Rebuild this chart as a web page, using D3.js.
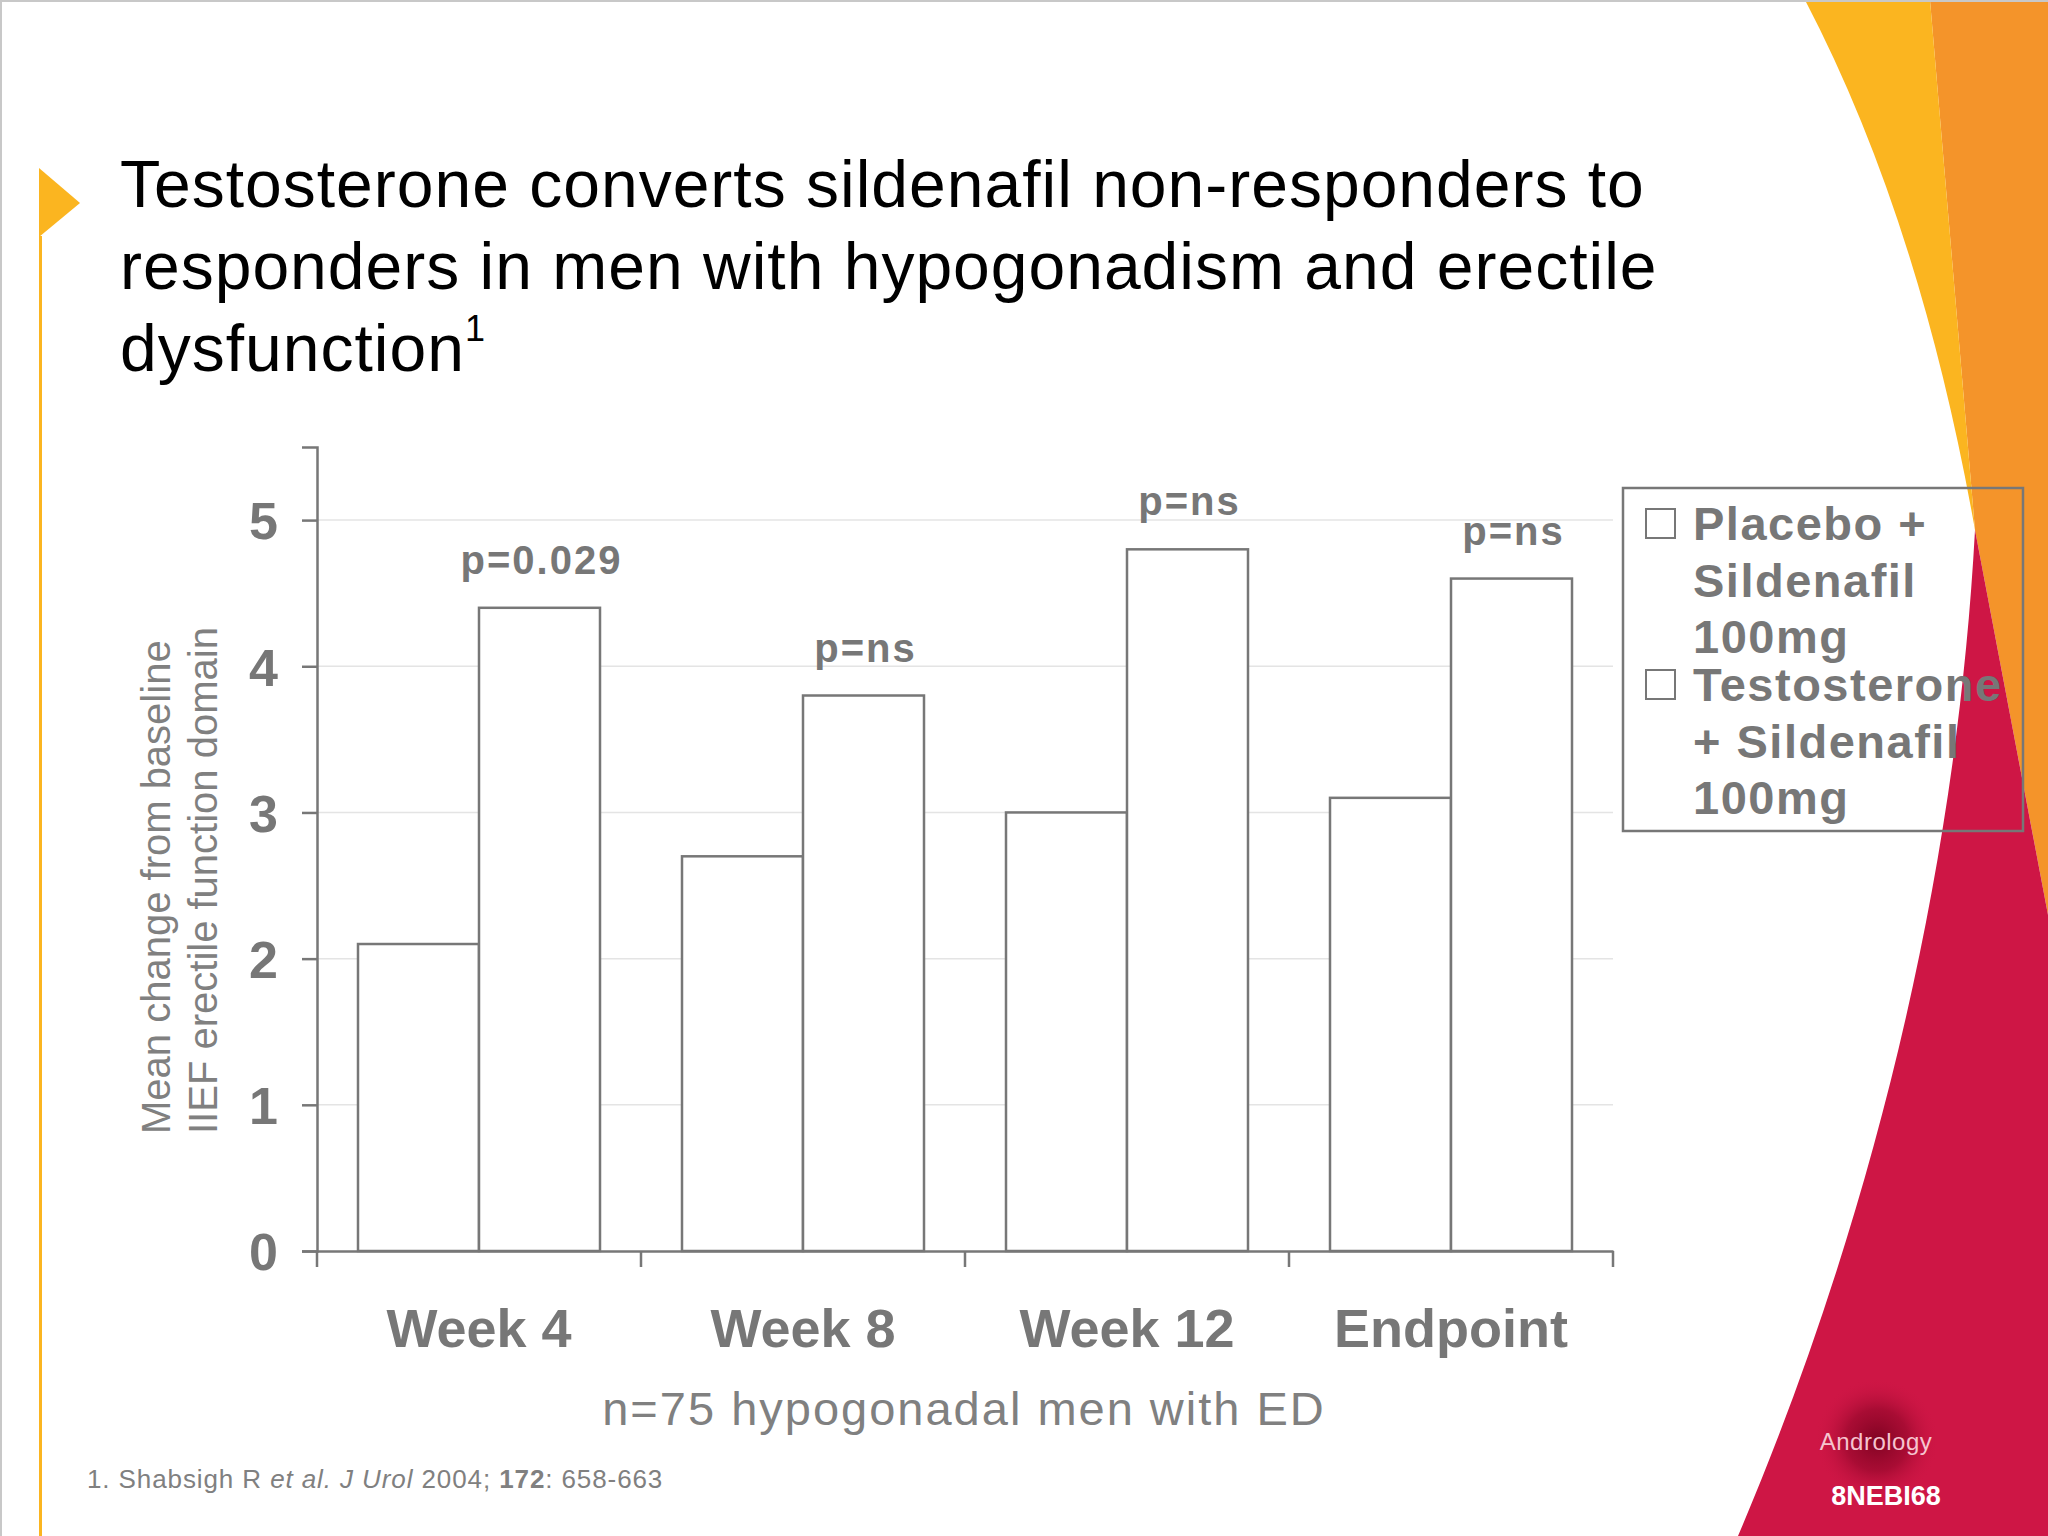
<!DOCTYPE html>
<html><head><meta charset="utf-8">
<script src="https://cdn.jsdelivr.net/npm/d3@7"></script>
<style>
html,body{margin:0;padding:0;background:#fff;}
svg{display:block;font-family:"Liberation Sans",Arial,sans-serif;}
</style></head>
<body>
<svg id="c" width="2048" height="1536"></svg>
<script>
const categories = ["Week 4", "Week 8", "Week 12", "Endpoint"];
const seriesKeys = ["placebo", "testosterone"];
const placeboValues = [2.1, 2.7, 3.0, 3.1];
const testosteroneValues = [4.4, 3.8, 4.8, 4.6];
const pLabels = ["p=0.029", "p=ns", "p=ns", "p=ns"];
const yTickValues = [0, 1, 2, 3, 4, 5];
const legendLines = [
  ["Placebo +", "Sildenafil", "100mg"],
  ["Testosterone", "+ Sildenafil", "100mg"]
];
const titleLines = ["Testosterone converts sildenafil non-responders to",
  "responders in men with hypogonadism and erectile", "dysfunction"];
const yTitleLines = ["Mean change from baseline", "IIEF erectile function domain"];

const svg = d3.select("#c");
const grey = "#777777";

// background decorations
const defs = svg.append("defs");
const rg = defs.append("radialGradient").attr("id", "glow");
rg.append("stop").attr("offset", "0%").attr("stop-color", "#800322").attr("stop-opacity", 1);
rg.append("stop").attr("offset", "50%").attr("stop-color", "#9c092e").attr("stop-opacity", 0.75);
rg.append("stop").attr("offset", "100%").attr("stop-color", "#ce1645").attr("stop-opacity", 0);

svg.append("path").attr("d", "M1930,0 L1975,530 L2048,915 L2048,0 Z").attr("fill", "#f4942a");
svg.append("path").attr("d", "M1805,0 Q1920,220 1975,530 L1930,0 Z").attr("fill", "#fbb520");
svg.append("path").attr("d", "M1975,530 L2048,915 L2048,1536 L1738,1536 C1860,1250 1955,900 1975,530 Z").attr("fill", "#ce1645");
svg.append("circle").attr("cx", 1877).attr("cy", 1440).attr("r", 62).attr("fill", "url(#glow)");
svg.append("text").attr("x", 1876).attr("y", 1450).attr("text-anchor", "middle")
  .attr("font-size", 24).attr("letter-spacing", 0.5).attr("fill", "#f6c4cf").text("Andrology");
svg.append("text").attr("x", 1886).attr("y", 1505).attr("text-anchor", "middle")
  .attr("font-size", 27).attr("font-weight", "bold").attr("fill", "#ffffff").text("8NEBI68");

// border lines
svg.append("line").attr("x1", 0).attr("x2", 2048).attr("y1", 1).attr("y2", 1).attr("stroke", "#c8c8c8").attr("stroke-width", 2);
svg.append("line").attr("x1", 1).attr("x2", 1).attr("y1", 0).attr("y2", 1536).attr("stroke", "#c8c8c8").attr("stroke-width", 2);

// yellow arrow marker
svg.append("path").attr("d", "M39,168 L80,203 L39,237 Z").attr("fill", "#fbb520");
svg.append("line").attr("x1", 40.5).attr("x2", 40.5).attr("y1", 236).attr("y2", 1536).attr("stroke", "#fbb520").attr("stroke-width", 3);

// title
const title = svg.append("text").attr("font-size", 66).attr("letter-spacing", 1.0).attr("fill", "#000");
titleLines.forEach((t, i) => {
  title.append("tspan").attr("x", 120).attr("y", 207 + i * 82).text(t);
  if (i === titleLines.length - 1) {
    title.append("tspan").attr("font-size", 36).attr("dy", -30).text("1");
  }
});

// scales
const y = d3.scaleLinear().domain([0, 5.5]).range([1251, 447]);
const x0 = d3.scaleBand().domain(categories).range([317, 1613]).padding(0);
const pad = 41;
const x1 = d3.scaleBand().domain(seriesKeys).range([pad, x0.bandwidth() - pad]).padding(0);

// gridlines
svg.append("g").selectAll("line").data(yTickValues.filter(v => v > 0)).join("line")
  .attr("x1", 317).attr("x2", 1613).attr("y1", d => y(d)).attr("y2", d => y(d))
  .attr("stroke", "#e4e4e4").attr("stroke-width", 1.5);

// bars
const rows = categories.map((c, i) => ({ cat: c, placebo: placeboValues[i], testosterone: testosteroneValues[i], p: pLabels[i] }));
const groups = svg.append("g").selectAll("g").data(rows).join("g")
  .attr("transform", d => `translate(${x0(d.cat)},0)`);
groups.selectAll("rect").data(d => seriesKeys.map(k => ({ key: k, value: d[k] }))).join("rect")
  .attr("x", d => x1(d.key)).attr("width", x1.bandwidth())
  .attr("y", d => y(d.value)).attr("height", d => y(0) - y(d.value))
  .attr("fill", "#ffffff").attr("stroke", grey).attr("stroke-width", 2.5);
groups.append("text")
  .attr("x", x1("testosterone") + x1.bandwidth() / 2 + 2)
  .attr("y", d => y(d.testosterone) - 34)
  .attr("text-anchor", "middle").attr("font-size", 40).attr("font-weight", "bold")
  .attr("letter-spacing", 2).attr("fill", grey).text(d => d.p);

// y axis
const yAxis = svg.append("g").attr("transform", "translate(317,0)")
  .call(d3.axisLeft(y).tickValues(yTickValues).tickSize(15).tickPadding(24).tickFormat(d3.format("d")));
yAxis.select(".domain").attr("stroke", grey).attr("stroke-width", 2.5);
yAxis.selectAll(".tick line").attr("stroke", grey).attr("stroke-width", 2.5);
yAxis.selectAll(".tick text").attr("fill", grey).attr("font-size", 52).attr("font-weight", "bold")
  .attr("font-family", "Liberation Sans, Arial, sans-serif").attr("dy", "0.36em");

// x axis
const xAxis = svg.append("g").attr("transform", "translate(0,1251)")
  .call(d3.axisBottom(x0).tickSize(0).tickPadding(58));
xAxis.select(".domain").attr("stroke", grey).attr("stroke-width", 2.5);
xAxis.selectAll(".tick text").attr("fill", grey).attr("font-size", 54).attr("font-weight", "bold")
  .attr("font-family", "Liberation Sans, Arial, sans-serif");
const boundaries = categories.map(c => x0(c)).concat([x0.range()[1]]);
svg.append("g").selectAll("line").data(boundaries).join("line")
  .attr("x1", d => d).attr("x2", d => d).attr("y1", 1251).attr("y2", 1267)
  .attr("stroke", grey).attr("stroke-width", 2.5);

// y title
const yt = svg.append("g");
yTitleLines.forEach((t, i) => {
  yt.append("text").attr("transform", `translate(${170 + i * 47},1134) rotate(-90)`)
    .attr("font-size", 40).attr("fill", "#808080").text(t);
});

// x subtitle
svg.append("text").attr("x", 964).attr("y", 1425).attr("text-anchor", "middle")
  .attr("font-size", 47).attr("letter-spacing", 2).attr("fill", "#808080").text("n=75 hypogonadal men with ED");

// footnote
const fn = svg.append("text").attr("x", 87).attr("y", 1488).attr("font-size", 26).attr("letter-spacing", 0.9).attr("fill", "#808080");
fn.append("tspan").text("1. Shabsigh R ");
fn.append("tspan").attr("font-style", "italic").text("et al. J Urol");
fn.append("tspan").text(" 2004; ");
fn.append("tspan").attr("font-weight", "bold").text("172");
fn.append("tspan").text(": 658-663");

// legend
const lg = svg.append("g");
lg.append("rect").attr("x", 1623).attr("y", 488).attr("width", 400).attr("height", 343)
  .attr("fill", "none").attr("stroke", grey).attr("stroke-width", 2.5);
const itemTop = [540, 701];
legendLines.forEach((lines, i) => {
  lg.append("rect").attr("x", 1646).attr("y", itemTop[i] - 31).attr("width", 29).attr("height", 29)
    .attr("fill", "#ffffff").attr("stroke", grey).attr("stroke-width", 2);
  lines.forEach((t, j) => {
    lg.append("text").attr("x", 1693).attr("y", itemTop[i] + j * 56.5)
      .attr("font-size", 47).attr("font-weight", "bold").attr("letter-spacing", 1.5)
      .attr("fill", grey).text(t);
  });
});
</script>
</body></html>
